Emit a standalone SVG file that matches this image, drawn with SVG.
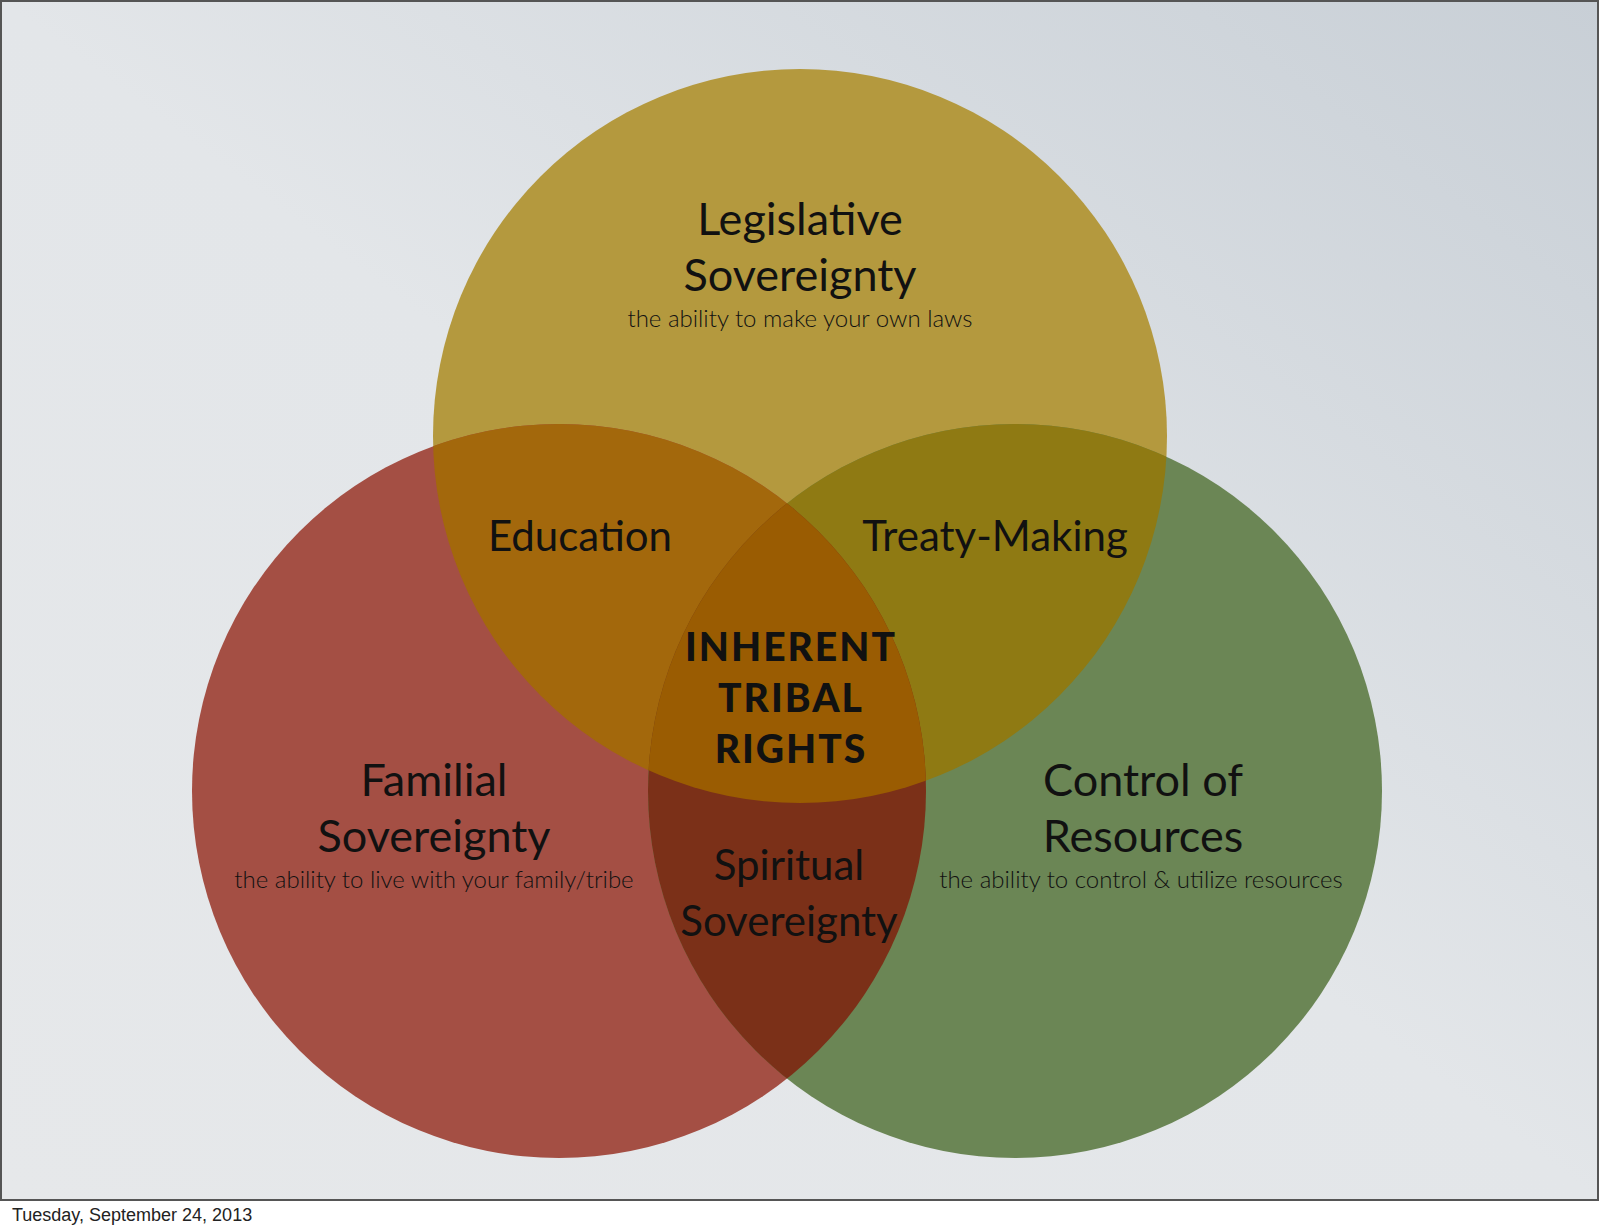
<svg xmlns="http://www.w3.org/2000/svg" width="1600" height="1232" viewBox="0 0 1600 1232">
<defs>
<linearGradient id="bg" x1="0" y1="1" x2="1" y2="0">
<stop offset="0" stop-color="#e6e8ea"/><stop offset="0.5" stop-color="#e3e6e9"/><stop offset="1" stop-color="#c8cfd6"/>
</linearGradient>
<clipPath id="cA"><circle cx="800" cy="436" r="367"/></clipPath>
<clipPath id="cB"><circle cx="559" cy="791" r="367"/></clipPath>
<clipPath id="cC"><circle cx="1015" cy="791" r="367"/></clipPath>
<style>
text{font-family:Lato,"Open Sans","Liberation Sans",sans-serif;fill:#111;text-anchor:middle}
.t{font-size:45px}
.s{font-size:24px;font-weight:300}
.m{font-size:42px}
.b{font-size:39px;font-weight:900;letter-spacing:2px}
</style>
</defs>
<rect x="0" y="0" width="1600" height="1232" fill="#fff"/>
<rect x="1" y="1" width="1597" height="1199" fill="url(#bg)" stroke="#555" stroke-width="2"/>
<g id="circles">
<circle id="legislative" cx="800" cy="436" r="367" fill="#b4993e"/>
<circle id="familial" cx="559" cy="791" r="367" fill="#a44f44"/>
<circle id="resources" cx="1015" cy="791" r="367" fill="#6b8655"/>
<g clip-path="url(#cA)"><circle cx="559" cy="791" r="367" fill="#a3680c"/><circle cx="1015" cy="791" r="367" fill="#8f7a13"/></g>
<g clip-path="url(#cB)"><circle cx="1015" cy="791" r="367" fill="#7b3018"/></g>
<g clip-path="url(#cA)"><g clip-path="url(#cB)"><circle cx="1015" cy="791" r="367" fill="#9a5c02"/></g></g>
</g>
<g id="labels">
<text class="t" x="800" y="235">Legislative</text>
<text class="t" x="800" y="291">Sovereignty</text>
<text class="s" x="800" y="327">the ability to make your own laws</text>
<text class="m" x="580" y="551">Education</text>
<text class="m" x="995" y="551">Treaty-Making</text>
<text class="b" x="791" y="661">INHERENT</text>
<text class="b" x="791" y="712">TRIBAL</text>
<text class="b" x="791" y="763">RIGHTS</text>
<text class="t" x="434" y="796">Familial</text>
<text class="t" x="434" y="852">Sovereignty</text>
<text class="s" x="434" y="888">the ability to live with your family/tribe</text>
<text class="t" x="1143" y="796">Control of</text>
<text class="t" x="1143" y="852">Resources</text>
<text class="s" x="1141" y="888">the ability to control &amp; utilize resources</text>
<text class="m" x="789" y="880">Spiritual</text>
<text class="m" x="789" y="936">Sovereignty</text>
</g>
<text x="12" y="1221" style="font-family:'Liberation Sans',Arial,sans-serif;font-size:18px;text-anchor:start;fill:#222">Tuesday, September 24, 2013</text>
</svg>
